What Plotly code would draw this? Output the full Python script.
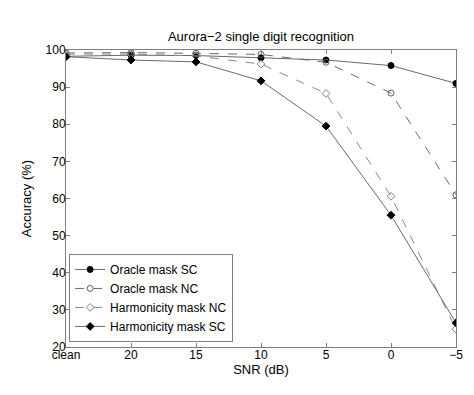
import plotly.graph_objects as go

snr_labels = ["clean", "20", "15", "10", "5", "0", "\u22125"]
oracle_sc = [98.3, 98.6, 98.5, 97.9, 97.3, 95.8, 91.0]
oracle_nc = [99.2, 99.3, 99.1, 98.8, 96.7, 88.4, 61.0]
harm_nc = [98.9, 98.9, 98.4, 96.2, 88.3, 60.6, 24.8]
harm_sc = [98.2, 97.3, 96.8, 91.7, 79.5, 55.5, 26.5]

x = list(range(len(snr_labels)))

fig = go.Figure()
fig.add_trace(go.Scatter(x=x, y=oracle_sc, name="Oracle mask SC", mode="lines+markers",
                         line=dict(color="#6a6a6a", width=1, dash="solid"),
                         marker=dict(symbol="circle", size=6, color="black", line=dict(color="black", width=1))))
fig.add_trace(go.Scatter(x=x, y=oracle_nc, name="Oracle mask NC", mode="lines+markers",
                         line=dict(color="#6a6a6a", width=1, dash="dash"),
                         marker=dict(symbol="circle-open", size=6, color="#606060", line=dict(width=1))))
fig.add_trace(go.Scatter(x=x, y=harm_nc, name="Harmonicity mask NC", mode="lines+markers",
                         line=dict(color="#8a8a8a", width=1, dash="dash"),
                         marker=dict(symbol="diamond-open", size=6, color="#808080", line=dict(width=1))))
fig.add_trace(go.Scatter(x=x, y=harm_sc, name="Harmonicity mask SC", mode="lines+markers",
                         line=dict(color="#6a6a6a", width=1, dash="solid"),
                         marker=dict(symbol="diamond", size=6, color="black", line=dict(color="black", width=1))))

axis_common = dict(showline=True, linecolor="#7f7f7f", linewidth=1, mirror="ticks",
                   ticks="inside", ticklen=4, tickcolor="#7f7f7f", showgrid=False, zeroline=False,
                   ticklabelstandoff=-3, ticklabeloverflow="allow",
                   tickfont=dict(family="Liberation Sans, Arial", size=12, color="black"))

fig.update_layout(
    width=474, height=395,
    margin=dict(l=66, r=11, t=50, b=48),
    paper_bgcolor="white", plot_bgcolor="white",
    font=dict(family="Liberation Sans, Arial", size=12, color="black"),
    title=dict(text="Aurora\u22122 single digit recognition", x=0.5, xref="paper", xanchor="center",
               y=0.92, yanchor="top", font=dict(size=13, color="black")),
    xaxis=dict(range=[0, 6], tickvals=x, ticktext=snr_labels,
               title=dict(text="SNR (dB)", standoff=3, font=dict(size=13)), **axis_common),
    yaxis=dict(range=[20, 100], dtick=10,
               title=dict(text="Accuracy (%)", standoff=11, font=dict(size=13)), **axis_common),
    legend=dict(x=0.008, y=0.017, xanchor="left", yanchor="bottom",
                bgcolor="white", bordercolor="#7f7f7f", borderwidth=1,
                font=dict(size=12), tracegroupgap=0, itemwidth=30),
    showlegend=True,
)

fig.write_html("out.html", config={"displayModeBar": False},
               post_script="document.body.style.margin='0';")
